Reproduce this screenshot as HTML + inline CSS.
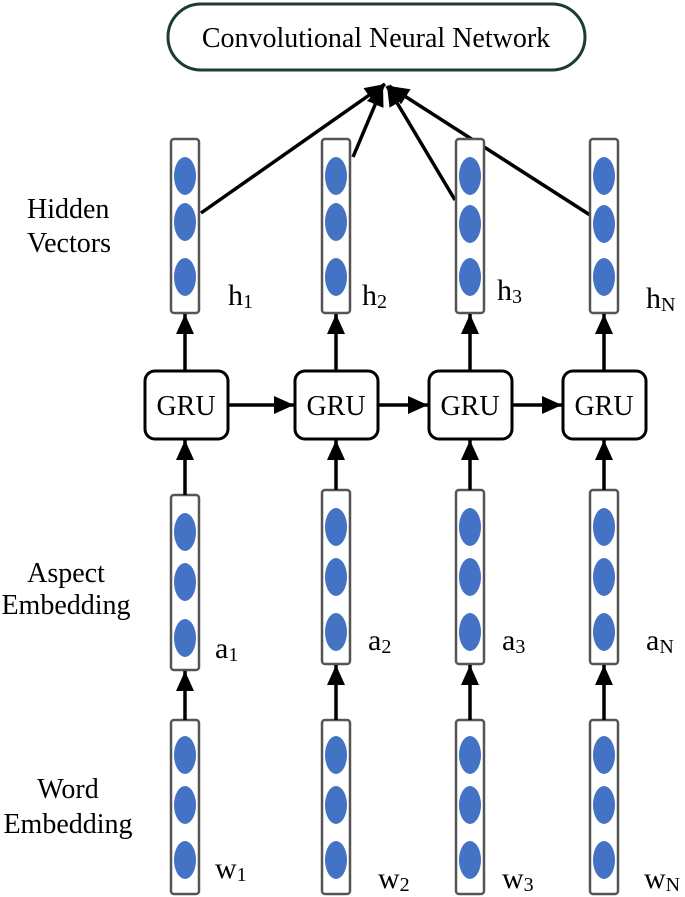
<!DOCTYPE html>
<html><head><meta charset="utf-8"><style>body{margin:0;background:#fff}svg{display:block}text{font-family:"Liberation Serif",serif;fill:#000}</style></head><body>
<svg width="685" height="897" viewBox="0 0 685 897" xmlns="http://www.w3.org/2000/svg">
<defs>
<marker id="ahb" viewBox="0 0 10 10" markerWidth="20" markerHeight="18" refX="10" refY="5" orient="auto" markerUnits="userSpaceOnUse" preserveAspectRatio="none"><path d="M0,0 L10,5 L0,10 z" fill="#000"/></marker>
</defs>
<rect x="168" y="4" width="417" height="66" rx="33" fill="#fff" stroke="#1c3a38" stroke-width="3"/>
<text x="376" y="47" font-size="28" text-anchor="middle">Convolutional Neural Network</text>
<g stroke="#000" stroke-width="3.5">
<line x1="201" y1="213" x2="385" y2="84" marker-end="url(#ahb)"/>
<line x1="353" y1="157" x2="383" y2="86" marker-end="url(#ahb)"/>
<line x1="455" y1="200" x2="387" y2="86" marker-end="url(#ahb)"/>
<line x1="590" y1="215" x2="389" y2="86" marker-end="url(#ahb)"/>
</g>
<text x="27" y="218" font-size="28">Hidden</text>
<text x="27" y="252" font-size="28">Vectors</text>
<text x="66" y="582" font-size="28" text-anchor="middle">Aspect</text>
<text x="66" y="614" font-size="28" text-anchor="middle">Embedding</text>
<text x="68" y="798" font-size="28" text-anchor="middle">Word</text>
<text x="68" y="833" font-size="28" text-anchor="middle">Embedding</text>
<g fill="#fff" stroke="#555" stroke-width="2.5">
<rect x="171" y="139" width="28" height="174" rx="3"/><rect x="322" y="139" width="28" height="174" rx="3"/><rect x="456" y="139" width="28" height="174" rx="3"/><rect x="590" y="139" width="28" height="174" rx="3"/>
<rect x="171" y="495" width="28" height="175" rx="3"/><rect x="322" y="490" width="28" height="174" rx="3"/><rect x="456" y="490" width="28" height="174" rx="3"/><rect x="590" y="490" width="28" height="174" rx="3"/>
<rect x="171" y="720" width="28" height="174" rx="3"/><rect x="322" y="720" width="28" height="174" rx="3"/><rect x="456" y="720" width="28" height="174" rx="3"/><rect x="590" y="720" width="28" height="174" rx="3"/>
</g>
<g fill="#4472c4">
<ellipse cx="185" cy="176" rx="11" ry="19"/><ellipse cx="185" cy="222" rx="11" ry="19"/><ellipse cx="185" cy="277" rx="11" ry="19"/>
<ellipse cx="336" cy="176" rx="11" ry="19"/><ellipse cx="336" cy="222" rx="11" ry="19"/><ellipse cx="336" cy="277" rx="11" ry="19"/>
<ellipse cx="470" cy="176" rx="11" ry="19"/><ellipse cx="470" cy="224" rx="11" ry="19"/><ellipse cx="470" cy="277" rx="11" ry="19"/>
<ellipse cx="604" cy="176" rx="11" ry="19"/><ellipse cx="604" cy="224" rx="11" ry="19"/><ellipse cx="604" cy="277" rx="11" ry="19"/>
<ellipse cx="185" cy="532" rx="11" ry="19"/><ellipse cx="185" cy="582" rx="11" ry="19"/><ellipse cx="185" cy="638" rx="11" ry="19"/>
<ellipse cx="336" cy="527" rx="11" ry="19"/><ellipse cx="336" cy="577" rx="11" ry="19"/><ellipse cx="336" cy="632" rx="11" ry="19"/>
<ellipse cx="470" cy="527" rx="11" ry="19"/><ellipse cx="470" cy="577" rx="11" ry="19"/><ellipse cx="470" cy="632" rx="11" ry="19"/>
<ellipse cx="604" cy="527" rx="11" ry="19"/><ellipse cx="604" cy="577" rx="11" ry="19"/><ellipse cx="604" cy="632" rx="11" ry="19"/>
<ellipse cx="185" cy="755" rx="11" ry="19"/><ellipse cx="185" cy="805" rx="11" ry="19"/><ellipse cx="185" cy="860" rx="11" ry="19"/>
<ellipse cx="336" cy="755" rx="11" ry="19"/><ellipse cx="336" cy="805" rx="11" ry="19"/><ellipse cx="336" cy="860" rx="11" ry="19"/>
<ellipse cx="470" cy="755" rx="11" ry="19"/><ellipse cx="470" cy="805" rx="11" ry="19"/><ellipse cx="470" cy="860" rx="11" ry="19"/>
<ellipse cx="604" cy="755" rx="11" ry="19"/><ellipse cx="604" cy="805" rx="11" ry="19"/><ellipse cx="604" cy="860" rx="11" ry="19"/>
</g>
<g fill="#fff" stroke="#000" stroke-width="3">
<rect x="145" y="371" width="83" height="68" rx="10"/><rect x="295" y="371" width="83" height="68" rx="10"/><rect x="429" y="371" width="83" height="68" rx="10"/><rect x="563" y="371" width="83" height="68" rx="10"/>
</g>
<g font-size="28" text-anchor="middle">
<text x="186" y="415">GRU</text><text x="336" y="415">GRU</text><text x="470" y="415">GRU</text><text x="604" y="415">GRU</text>
</g>
<g stroke="#000" stroke-width="3.5">
<line x1="185" y1="371" x2="185" y2="314" marker-end="url(#ahb)"/><line x1="336" y1="371" x2="336" y2="314" marker-end="url(#ahb)"/><line x1="470" y1="371" x2="470" y2="314" marker-end="url(#ahb)"/><line x1="604" y1="371" x2="604" y2="314" marker-end="url(#ahb)"/>
<line x1="185" y1="495" x2="185" y2="440" marker-end="url(#ahb)"/><line x1="336" y1="490" x2="336" y2="440" marker-end="url(#ahb)"/><line x1="470" y1="490" x2="470" y2="440" marker-end="url(#ahb)"/><line x1="604" y1="490" x2="604" y2="440" marker-end="url(#ahb)"/>
<line x1="185" y1="720" x2="185" y2="671" marker-end="url(#ahb)"/><line x1="336" y1="720" x2="336" y2="665" marker-end="url(#ahb)"/><line x1="470" y1="720" x2="470" y2="665" marker-end="url(#ahb)"/><line x1="604" y1="720" x2="604" y2="665" marker-end="url(#ahb)"/>
<line x1="228" y1="405" x2="294" y2="405" marker-end="url(#ahb)"/><line x1="378" y1="405" x2="428" y2="405" marker-end="url(#ahb)"/><line x1="512" y1="405" x2="562" y2="405" marker-end="url(#ahb)"/>
</g>
<g font-size="30">
<text x="228" y="305">h<tspan font-size="20" dy="3">1</tspan></text>
<text x="362" y="305">h<tspan font-size="20" dy="3">2</tspan></text>
<text x="497" y="300">h<tspan font-size="20" dy="3">3</tspan></text>
<text x="646" y="308">h<tspan font-size="20" dy="3">N</tspan></text>
<text x="215" y="658">a<tspan font-size="20" dy="3">1</tspan></text>
<text x="368" y="650">a<tspan font-size="20" dy="3">2</tspan></text>
<text x="502" y="650">a<tspan font-size="20" dy="3">3</tspan></text>
<text x="646" y="650">a<tspan font-size="20" dy="3">N</tspan></text>
<text x="215" y="878">w<tspan font-size="20" dy="3">1</tspan></text>
<text x="378" y="888">w<tspan font-size="20" dy="3">2</tspan></text>
<text x="502" y="888">w<tspan font-size="20" dy="3">3</tspan></text>
<text x="644" y="888">w<tspan font-size="20" dy="3">N</tspan></text>
</g>
</svg>
</body></html>
